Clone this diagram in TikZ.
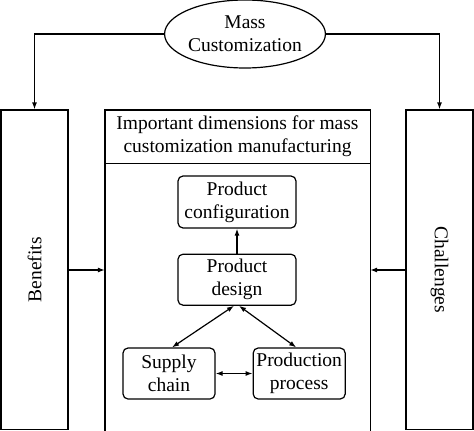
\documentclass[tikz,border=0pt]{standalone}
\usepackage{fontspec}
\setmainfont{Liberation Serif}
\usetikzlibrary{positioning,shapes.geometric,arrows.meta}

\begin{document}
\begin{tikzpicture}[x=1pt,y=-1pt,>={Latex[length=7pt,width=5pt]},line width=1.2pt]
            \tikzstyle{txt}    = [font=\fontsize{19.5}{23}\selectfont, align=center]
            \tikzstyle{side}   = [draw, rectangle, minimum width=67pt, minimum height=319.5pt, inner sep=0pt]
            \tikzstyle{frame}  = [rectangle, minimum width=264pt, inner sep=0pt, txt]
            \tikzstyle{dim}    = [draw, rounded corners=5pt, inner sep=0pt, txt]

            \useasboundingbox (0,0) rectangle (474,431);

            \node[draw, ellipse, minimum width=146pt, minimum height=68pt, inner sep=0pt, txt] (mc) at (245,34) {Mass\\Customization};

            \node[side] (benefits) at (34.5,269.75) {};
            \node[side] (challenges) at (439.5,269.75) {};
            \node[txt, rotate=90] at (benefits) {Benefits};
            \node[txt, rotate=-90] at (challenges) {Challenges};

            \draw[->] (mc.west) -| (benefits.north);
            \draw[->] (mc.east) -| (challenges.north);

            \node[frame, minimum height=52pt] (title) at (237.5,136.5) {Important dimensions for mass\\customization manufacturing};
            \node[frame, minimum height=267pt, below=0pt of title] (body) {};
            \draw (title.north west) rectangle (body.south east);
            \draw (title.south west) -- (title.south east);

            \draw[->] (benefits.east |- 0,270) -- (body.west |- 0,270);
            \draw[->] (challenges.west |- 0,270) -- (body.east |- 0,270);

            % Dimensions
            \node[dim, minimum width=118pt, minimum height=52pt] (config) at (237,202) {Product\\configuration};
            \node[dim, minimum width=118pt, minimum height=51pt, below=25pt of config] (design) {Product\\design};
            \node[dim, minimum width=92pt, minimum height=51pt] (supply) at (169,373.5) {Supply\\chain};
            \node[dim, minimum width=92pt, minimum height=51pt, right=37pt of supply] (production) {Production\\process};

            \draw[->] (design) -- (config);
            \draw[<->] ([xshift=-3pt]design.south) -- ([xshift=3pt]supply.north);
            \draw[<->] ([xshift=2pt]design.south) -- ([xshift=-3pt]production.north);
            \draw[<->] (supply) -- (production);
        \end{tikzpicture}
\end{document}
